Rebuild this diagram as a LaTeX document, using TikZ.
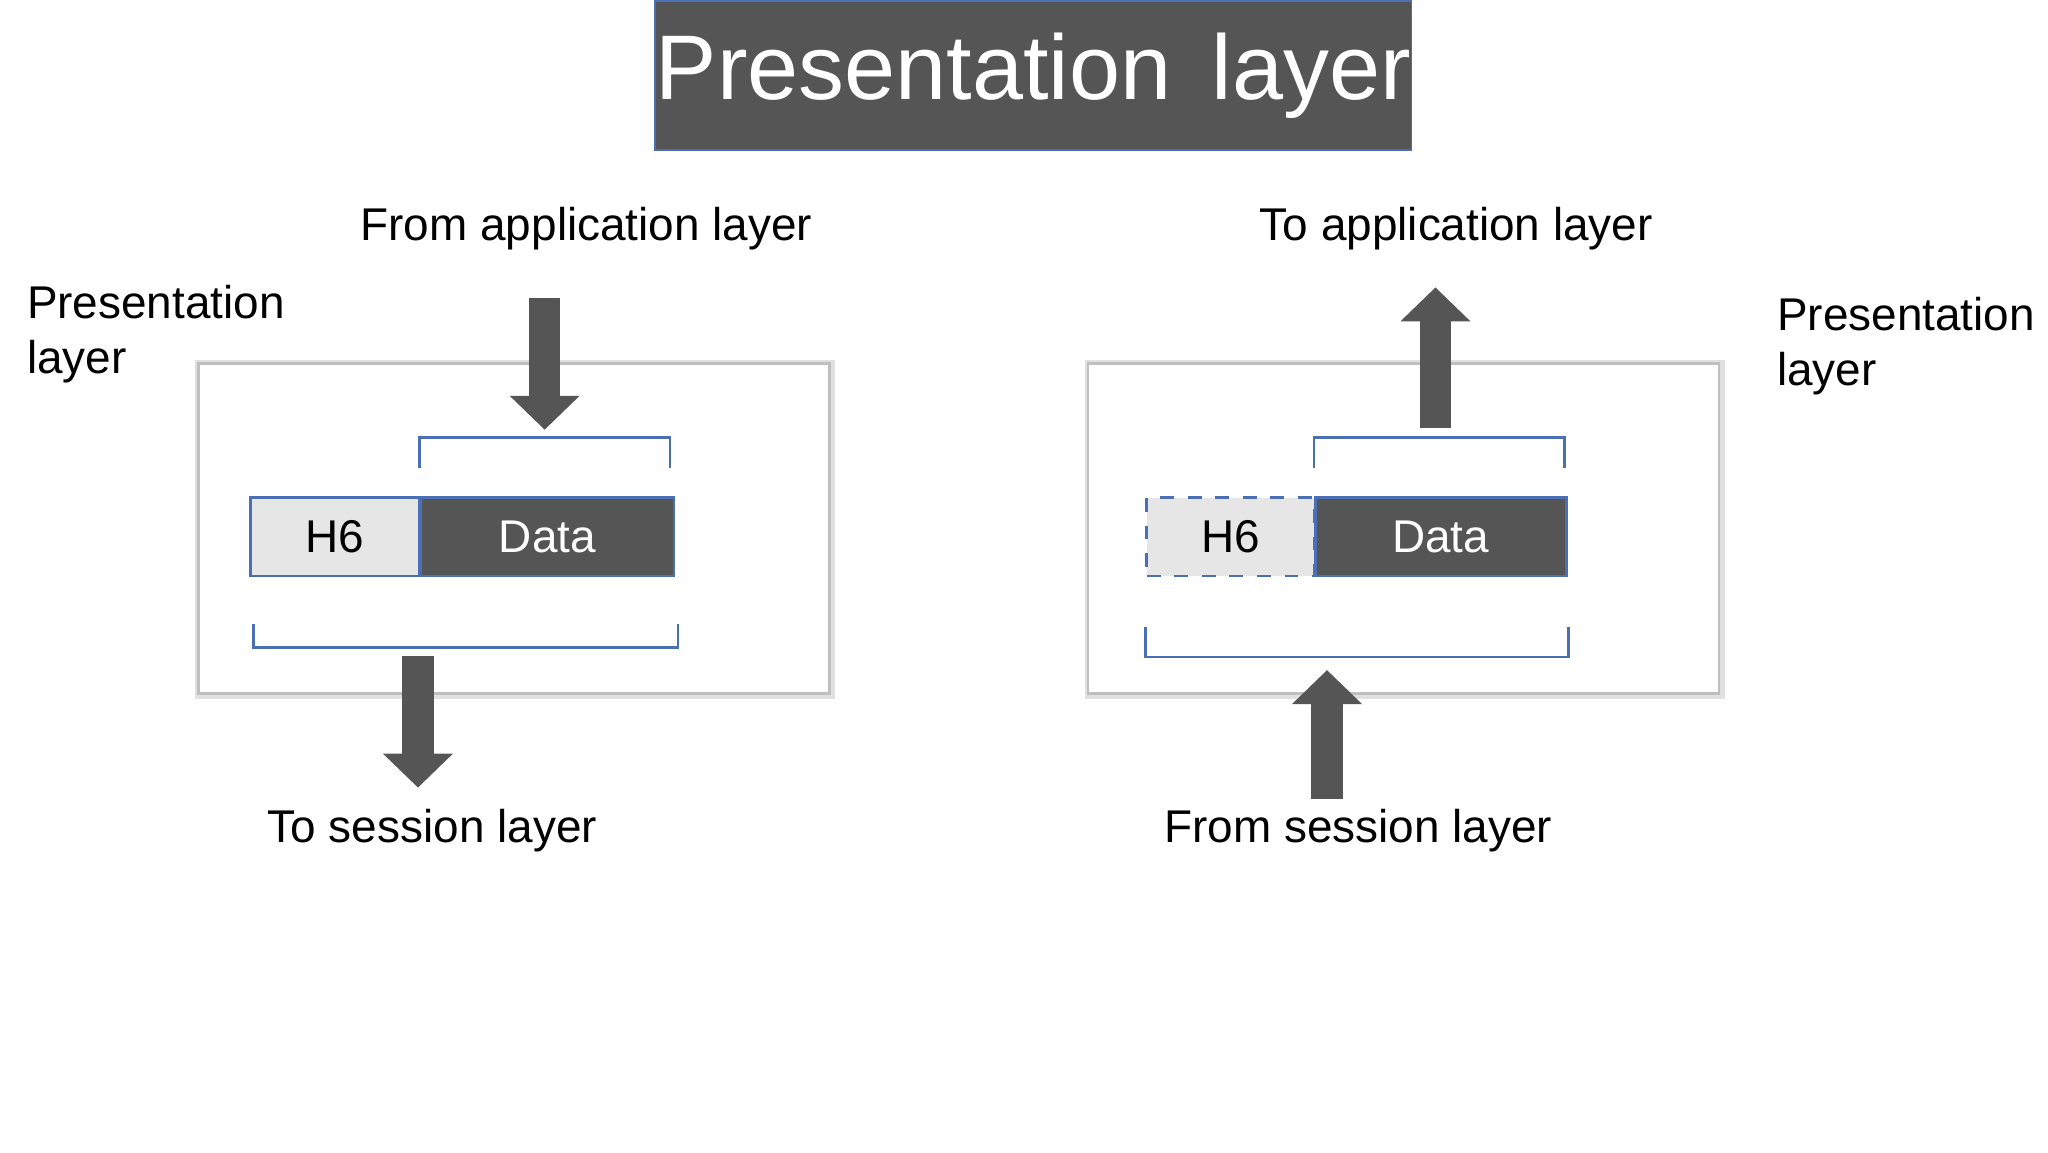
\documentclass[tikz,border=0pt]{standalone}
\usepackage{fontspec}
\setmainfont{Liberation Sans}
\usetikzlibrary{arrows.meta}
\definecolor{dk}{HTML}{555555}
\definecolor{bl}{HTML}{4A6FB5}
\definecolor{lg}{HTML}{E6E6E6}
\tikzset{
  panel/.style={draw=black!25, fill=white, line width=0.6pt},
  hbox/.style={draw=bl, fill=lg, line width=0.6pt, inner sep=0pt, anchor=north west, font=\fontsize{10}{12}\selectfont},
  dbox/.style={draw=bl, fill=dk, text=white, line width=0.6pt, inner sep=0pt, anchor=north west, font=\fontsize{10}{12}\selectfont},
  brk/.style={draw=bl, line width=0.6pt},
  bigarrow/.style={draw=dk, line width=0.24cm, -{Triangle[width=0.52cm,length=0.26cm]}},
  lbl/.style={font=\fontsize{10}{12}\selectfont, inner sep=0pt},
}
\begin{document}
\begin{tikzpicture}[x=1cm,y=-1cm]
\useasboundingbox[fill=white] (0,0) rectangle (15.68,8.82);
% title
\node[draw=bl, fill=dk, text=white, minimum width=5.79cm, minimum height=1.14cm, anchor=north west, inner sep=0pt, font=\fontsize{20}{24}\selectfont] (title) at (5.01,0) {Presentation\, layer};
% left panel
\draw[black!12, line width=2pt] (1.53,2.79) rectangle (6.36,5.32);
\node[panel, minimum width=4.83cm, minimum height=2.53cm, anchor=north west, inner sep=0pt] (lp) at (1.51,2.77) {};
\node[hbox, minimum width=1.29cm, minimum height=0.6cm] (lh) at (1.91,3.80) {H6};
\node[dbox, minimum width=1.94cm, minimum height=0.6cm] (ld) at (3.21,3.80) {Data};
\draw[brk] (3.21,3.58) -- (3.21,3.35) -- (5.13,3.35) -- (5.13,3.58);
\draw[brk] (1.94,4.78) -- (1.94,4.96) -- (5.19,4.96) -- (5.19,4.78);
\coordinate (la1) at (4.17,2.28); \coordinate (la2) at (4.17,3.29);
\coordinate (lb1) at (3.20,5.02); \coordinate (lb2) at (3.20,6.03);
\draw[bigarrow] (la1) -- (la2);
\draw[bigarrow] (lb1) -- (lb2);
\node[lbl] (t1) at (4.49,1.75) {From application layer};
\node[lbl, align=left, anchor=west] (t2) at (0.20,2.56) {Presentation\\layer};
\node[lbl] (t3) at (3.31,6.36) {To session layer};
% right panel
\draw[black!12, line width=2pt] (8.34,2.79) rectangle (13.17,5.32);
\node[panel, minimum width=4.83cm, minimum height=2.53cm, anchor=north west, inner sep=0pt] (rp) at (8.32,2.77) {};
\node[hbox, dashed, minimum width=1.28cm, minimum height=0.6cm] (rh) at (8.77,3.80) {H6};
\node[dbox, minimum width=1.92cm, minimum height=0.6cm] (rd) at (10.06,3.80) {Data};
\draw[brk] (10.06,3.58) -- (10.06,3.35) -- (11.98,3.35) -- (11.98,3.58);
\draw[brk] (8.77,4.80) -- (8.77,5.03) -- (12.01,5.03) -- (12.01,4.80);
\coordinate (ra1) at (10.99,3.28); \coordinate (ra2) at (10.99,2.20);
\coordinate (rb1) at (10.16,6.12); \coordinate (rb2) at (10.16,5.13);
\draw[bigarrow] (ra1) -- (ra2);
\draw[bigarrow] (rb1) -- (rb2);
\node[lbl] (t4) at (11.15,1.75) {To application layer};
\node[lbl, align=left, anchor=west] (t5) at (13.60,2.65) {Presentation\\layer};
\node[lbl] (t6) at (10.40,6.36) {From session layer};
\end{tikzpicture}
\end{document}
